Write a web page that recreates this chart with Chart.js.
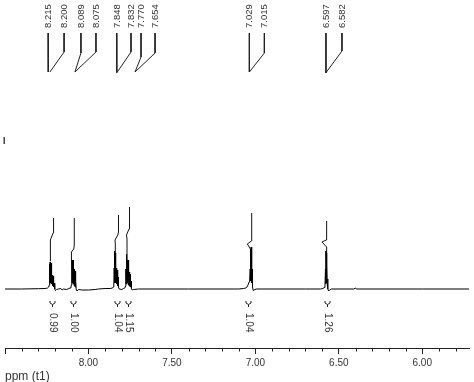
<!DOCTYPE html>
<html>
<head>
<meta charset="utf-8">
<script src="https://cdn.jsdelivr.net/npm/chart.js@4.4.1/dist/chart.umd.min.js"></script>
<style>
  html, body { margin: 0; padding: 0; background: #fff; }
  #wrap { width: 474px; height: 382px; }
</style>
</head>
<body>
<div id="wrap"><canvas id="c" width="474" height="382"></canvas></div>
<script>
// ---------------- data (ppm, intensity) ----------------
const SPECTRUM_PPM = [
  8.500, 8.400, 8.300, 8.260, 8.245, 8.238, 8.235, 8.233, 8.2315, 8.230, 8.2285, 8.227, 8.2255, 8.224, 8.2225,
  8.221, 8.2195, 8.218, 8.2165, 8.215, 8.2135, 8.212, 8.2105, 8.209, 8.207, 8.204, 8.202, 8.198, 8.192, 8.180,
  8.165, 8.158, 8.150, 8.130, 8.118, 8.110, 8.105, 8.102, 8.100, 8.0985, 8.097, 8.0955, 8.094, 8.0925, 8.091,
  8.0895, 8.088, 8.0865, 8.085, 8.0835, 8.082, 8.0805, 8.079, 8.077, 8.075, 8.073, 8.068, 8.060, 8.040, 8.000,
  7.960, 7.940, 7.900, 7.870, 7.856, 7.850, 7.848, 7.846, 7.8445, 7.843, 7.8415, 7.840, 7.8385, 7.837, 7.8355,
  7.834, 7.8325, 7.831, 7.8295, 7.828, 7.8265, 7.825, 7.8235, 7.822, 7.820, 7.816, 7.800, 7.790, 7.782, 7.778,
  7.776, 7.7745, 7.773, 7.7715, 7.770, 7.7685, 7.767, 7.7655, 7.764, 7.7625, 7.761, 7.7595, 7.758, 7.7565, 7.755,
  7.7535, 7.752, 7.7505, 7.749, 7.747, 7.745, 7.742, 7.738, 7.730, 7.700, 7.400, 7.100, 7.070, 7.058, 7.050,
  7.044, 7.038, 7.034, 7.031, 7.0295, 7.028, 7.0265, 7.025, 7.0235, 7.022, 7.0205, 7.019, 7.017, 7.013, 7.008,
  6.995, 6.700, 6.610, 6.595, 6.588, 6.583, 6.580, 6.5785, 6.577, 6.5755, 6.574, 6.5725, 6.571, 6.569, 6.567,
  6.565, 6.561, 6.555, 6.545, 6.410, 6.400, 6.395, 6.000, 5.720
];
const SPECTRUM_INTENSITY = [
  0, 0, 0.3, 0.5, 1, 2, 4, 25, 5, 27, 6, 27, 8, 26, 6,
  14, 5, 13, 4, 14, 3, 13, 3, 12, 2, 6, 0, -1.5, -0.5, 0,
  0.5, -1, 0, -0.5, 0.5, 1, 2, 4, 29, 6, 29, 7, 28, 6, 29,
  5, 22, 4, 20, 3, 19, 2, 18, 2, 8, -1, -2, -0.5, -1, -1,
  -0.5, 0, 0.5, 0.5, 1, 2, 4, 21, 6, 38, 8, 36, 7, 21, 6,
  21, 5, 20, 5, 18, 4, 19, 3, 12, 2, 0, -0.5, 0.5, 1, 3,
  20, 5, 35, 7, 34, 7, 29, 6, 29, 5, 29, 4, 16, 3, 17,
  3, 16, 2, 15, 2, 8, 0, -1, -0.5, 0, 0, 0, 0.5, 1, 2,
  4, 7, 10, 20, 8, 40, 12, 42, 10, 35, 6, 20, 2, -1.5, -1,
  0, 0, 0, 0.5, 1.5, 3, 20, 5, 38, 8, 36, 6, 24, 4, 10,
  0, -2, -1, 0, 0, 1, 0, 0, 0
];

// integral curves (ppm, level)
const INTEGRAL_PPM = [
  [8.225, 8.226, 8.230, 8.212, 8.209, 8.209],
  [8.099, 8.100, 8.104, 8.088, 8.085, 8.085],
  [7.838, 7.839, 7.841, 7.824, 7.820, 7.820],
  [7.768, 7.769, 7.772, 7.757, 7.754, 7.754],
  [7.026, 7.026, 7.048, 7.024, 7.022, 7.022],
  [6.576, 6.573, 6.601, 6.575, 6.573, 6.573]
];
const INTEGRAL_LEVEL = [
  [28, 47, 49, 56, 60, 71],
  [29, 35, 37, 40, 44, 71],
  [21, 45, 49, 54, 57, 74],
  [29, 50, 54, 60, 64, 82],
  [36, 39, 45, 48, 50, 76],
  [36, 42, 47, 49, 51, 68]
];
const INTEGRAL_CENTER_PPM = [8.218, 8.093, 7.831, 7.762, 7.046, 6.573];
const INTEGRAL_VALUES = ['0.99', '1.00', '1.04', '1.15', '1.04', '1.26'];

// peak pick labels
const PEAK_LABELS = ['8.215', '8.200', '8.089', '8.075', '7.848', '7.832', '7.770', '7.654', '7.029', '7.015', '6.597', '6.582'];
const PEAK_LABEL_PPM = [8.242, 8.146, 8.045, 7.955, 7.831, 7.745, 7.685, 7.601, 7.036, 6.946, 6.577, 6.481];
const PEAK_KNEE_LEVEL = [217, 237, 236, 237, 216, 237, 232, 236, 217, 236, 216, 238];
const PEAK_TARGET_PPM = [8.240, 8.231, 8.081, 8.081, 7.829, 7.827, 7.721, 7.721, 7.036, 7.036, 6.574, 6.574];

// axis ticks
const TICK_VALUES = [8.5, 8.0, 7.5, 7.0, 6.5, 6.0];
const TICK_LABELS = ['', '8.00', '7.50', '7.00', '6.50', '6.00'];
const MINOR_TICKS = [8.4, 8.3, 8.2, 8.1, 7.9, 7.8, 7.7, 7.6, 7.4, 7.3, 7.2, 7.1, 6.9, 6.8, 6.7, 6.6, 6.4, 6.3, 6.2, 6.1, 5.9, 5.8];
const X_MIN = 5.72, X_MAX = 8.50;
const Y_MIN = -59, Y_MAX = 289;
const LABEL_BASE_LEVEL = 261;   // where rotated peak labels start
const CONNECTOR_TOP_LEVEL = 256;
const CONNECTOR_BOTTOM_LEVEL = 217;
const AXIS_TITLE = 'ppm (t1)';

// ---------------- build datasets ----------------
const spectrum = SPECTRUM_PPM.map((p, i) => ({ x: p, y: SPECTRUM_INTENSITY[i] }));

const integralSets = INTEGRAL_PPM.map((arr, k) => ({
  data: arr.map((p, i) => ({ x: p, y: INTEGRAL_LEVEL[k][i] })),
  borderColor: '#111', borderWidth: 1, pointRadius: 0, tension: 0, fill: false
}));

const connectorSets = PEAK_LABELS.map((lab, i) => ({
  data: [
    { x: PEAK_LABEL_PPM[i], y: CONNECTOR_TOP_LEVEL },
    { x: PEAK_LABEL_PPM[i], y: PEAK_KNEE_LEVEL[i] },
    { x: PEAK_TARGET_PPM[i], y: CONNECTOR_BOTTOM_LEVEL }
  ],
  borderColor: '#222', borderWidth: 1, pointRadius: 0, tension: 0, fill: false
}));

const TEXT_COLOR = '#333';
const FONT = '"Liberation Sans", Arial, sans-serif';

const annotatePlugin = {
  id: 'nmrAnnotations',
  afterDatasetsDraw(chart) {
    const ctx = chart.ctx;
    const xs = chart.scales.x, ys = chart.scales.y;
    const axisY = chart.chartArea.bottom;
    ctx.save();
    // minor ticks
    ctx.strokeStyle = '#222';
    ctx.lineWidth = 1;
    MINOR_TICKS.forEach(v => {
      const px = Math.round(xs.getPixelForValue(v)) + 0.5;
      ctx.beginPath();
      ctx.moveTo(px, axisY);
      ctx.lineTo(px, axisY + 3.5);
      ctx.stroke();
    });
    // peak labels (rotated, reading upward)
    ctx.fillStyle = TEXT_COLOR;
    ctx.font = '9.5px ' + FONT;
    ctx.textAlign = 'left';
    ctx.textBaseline = 'middle';
    PEAK_LABELS.forEach((lab, i) => {
      const px = xs.getPixelForValue(PEAK_LABEL_PPM[i]);
      const py = ys.getPixelForValue(LABEL_BASE_LEVEL);
      ctx.save();
      ctx.translate(px, py);
      ctx.rotate(-Math.PI / 2);
      ctx.fillText(lab, 0, 0.5);
      ctx.restore();
    });
    // integral markers and values
    ctx.strokeStyle = '#222';
    ctx.font = '10px ' + FONT;
    INTEGRAL_CENTER_PPM.forEach((p, i) => {
      const px = Math.round(xs.getPixelForValue(p)) + 0.5;
      const y0 = ys.getPixelForValue(-12);
      ctx.beginPath();
      ctx.moveTo(px - 2.5, y0);
      ctx.lineTo(px - 2.5, y0 + 2);
      ctx.lineTo(px, y0 + 3.5);
      ctx.lineTo(px + 2.5, y0 + 2);
      ctx.lineTo(px + 2.5, y0);
      ctx.moveTo(px, y0 + 3.5);
      ctx.lineTo(px, y0 + 6);
      ctx.stroke();
      ctx.save();
      ctx.translate(px, ys.getPixelForValue(-24));
      ctx.rotate(Math.PI / 2);
      ctx.textAlign = 'left';
      ctx.textBaseline = 'middle';
      ctx.fillText(INTEGRAL_VALUES[i], 0, 0);
      ctx.restore();
    });
    // small stray mark at left edge
    ctx.lineWidth = 1.5;
    ctx.strokeStyle = '#444';
    ctx.beginPath();
    ctx.moveTo(chart.chartArea.left - 0.8, ys.getPixelForValue(152));
    ctx.lineTo(chart.chartArea.left - 0.8, ys.getPixelForValue(145));
    ctx.stroke();
    // axis title
    ctx.fillStyle = TEXT_COLOR;
    ctx.font = '12px ' + FONT;
    ctx.textAlign = 'left';
    ctx.textBaseline = 'alphabetic';
    ctx.fillText(AXIS_TITLE, chart.chartArea.left, 380);
    ctx.restore();
  }
};

new Chart(document.getElementById('c'), {
  type: 'line',
  data: {
    datasets: [
      { data: spectrum, borderColor: '#000', borderWidth: 1, pointRadius: 0, tension: 0, fill: false },
      ...integralSets,
      ...connectorSets
    ]
  },
  options: {
    responsive: false,
    animation: false,
    devicePixelRatio: 1,
    parsing: true,
    layout: { padding: { left: 5, right: 5, top: 0, bottom: 0 } },
    plugins: { legend: { display: false }, tooltip: { enabled: false }, title: { display: false } },
    scales: {
      x: {
        type: 'linear',
        reverse: true,
        min: X_MIN,
        max: X_MAX,
        afterBuildTicks: s => { s.ticks = TICK_VALUES.map(v => ({ value: v })); },
        afterFit: s => { s.height = 34; },
        ticks: {
          autoSkip: false, maxRotation: 0, minRotation: 0, padding: 3,
          color: TEXT_COLOR, font: { family: FONT, size: 10 },
          callback: v => TICK_LABELS[TICK_VALUES.indexOf(v)]
        },
        grid: { drawOnChartArea: false, drawTicks: true, tickLength: 6, color: '#222', tickColor: '#222' },
        border: { display: true, color: '#222', width: 1 }
      },
      y: { type: 'linear', display: false, min: Y_MIN, max: Y_MAX }
    }
  },
  plugins: [annotatePlugin]
});
</script>
</body>
</html>
